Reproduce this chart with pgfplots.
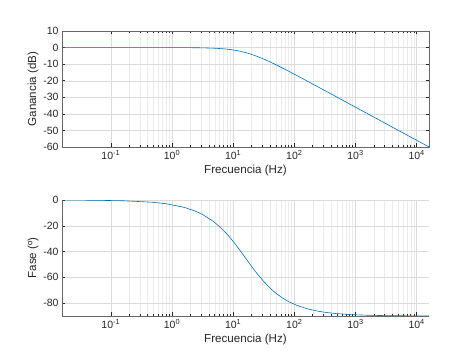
\documentclass[border=0pt]{standalone}
\usepackage{fontspec}
\setmainfont{Liberation Sans}
\usepackage{pgfplots}
\pgfplotsset{compat=1.18}
\definecolor{mblue}{rgb}{0,0.447,0.741}
\definecolor{maxis}{rgb}{0.15,0.15,0.15}
\pgfplotstableread{
f gain phase
0.0159155 0.0000 -0.0573
0.0477465 0.0000 -0.1719
0.159155 -0.0004 -0.573
0.477465 -0.0039 -1.718
0.795775 -0.0108 -2.862
1.59155 -0.0432 -5.711
2.38732 -0.0966 -8.531
3.18310 -0.1703 -11.310
4.77465 -0.3743 -16.699
6.36620 -0.6446 -21.801
7.95775 -0.9691 -26.565
9.54930 -1.3354 -30.964
11.1408 -1.7319 -34.992
12.7324 -2.1484 -38.660
15.9155 -3.0103 -45.000
19.8944 -4.0866 -51.340
23.8732 -5.1188 -56.310
31.8310 -6.9897 -63.435
39.7887 -8.6034 -68.199
47.7465 -10.0000 -71.565
63.6620 -12.3045 -75.964
79.5775 -14.1497 -78.690
111.408 -16.9897 -81.870
159.155 -20.0432 -84.289
238.732 -23.5411 -86.186
318.310 -26.0314 -87.138
477.465 -29.5472 -88.091
795.775 -33.9811 -88.854
1591.55 -40.0004 -89.427
3183.10 -46.0206 -89.714
7957.75 -53.9794 -89.885
15915.5 -60.0000 -89.943
}\bode
\begin{document}
\begin{tikzpicture}
\useasboundingbox (0,0) rectangle (474pt,355pt);
\begin{axis}[at={(62pt,208pt)},
    anchor=south west, scale only axis, width=367pt, height=116pt,
    xmode=log, xmin=0.0159155, xmax=15915.5,
    xtick={0.1,1,10,100,1000,10000},
    xticklabels={10\textsuperscript{-1},10\textsuperscript{0},10\textsuperscript{1},10\textsuperscript{2},10\textsuperscript{3},10\textsuperscript{4}},
    grid=both,
    major grid style={draw=black!14, line width=0.4pt},
    minor grid style={draw=black!8, line width=0.4pt},
    tick align=inside,
    major tick length=3.5pt, minor tick length=2pt,
    tick style={draw=maxis, line width=0.5pt},
    axis line style={draw=maxis!70, line width=0.5pt},
    tick label style={font=\fontsize{10.5}{12}\selectfont, text=maxis},
    xlabel style={font=\fontsize{11.6}{13}\selectfont, text=maxis, yshift=2pt},
    ylabel style={font=\fontsize{11.6}{13}\selectfont, text=maxis, yshift=-2pt},
    xlabel={Frecuencia (Hz)},
    ymin=-60, ymax=10, ytick={-60,-50,-40,-30,-20,-10,0,10},
    yticklabels={-60,-50,-40,-30,-20,-10,0,10},
    ylabel={Ganancia (dB)}]
\addplot[mblue, line width=0.6pt, no marks] table[x=f, y=gain] {\bode};
\end{axis}
\begin{axis}[at={(62pt,39pt)},
    anchor=south west, scale only axis, width=367pt, height=116pt,
    xmode=log, xmin=0.0159155, xmax=15915.5,
    xtick={0.1,1,10,100,1000,10000},
    xticklabels={10\textsuperscript{-1},10\textsuperscript{0},10\textsuperscript{1},10\textsuperscript{2},10\textsuperscript{3},10\textsuperscript{4}},
    grid=both,
    major grid style={draw=black!14, line width=0.4pt},
    minor grid style={draw=black!8, line width=0.4pt},
    tick align=inside,
    major tick length=3.5pt, minor tick length=2pt,
    tick style={draw=maxis, line width=0.5pt},
    axis line style={draw=maxis!70, line width=0.5pt},
    tick label style={font=\fontsize{10.5}{12}\selectfont, text=maxis},
    xlabel style={font=\fontsize{11.6}{13}\selectfont, text=maxis, yshift=2pt},
    ylabel style={font=\fontsize{11.6}{13}\selectfont, text=maxis, yshift=-2pt},
    xlabel={Frecuencia (Hz)},
    axis x line*=bottom, axis y line*=left,
    ymin=-90, ymax=0, ytick={-80,-60,-40,-20,0},
    yticklabels={-80,-60,-40,-20,0},
    ylabel={Fase (º)}]
\addplot[mblue, line width=0.6pt, no marks] table[x=f, y=phase] {\bode};
\end{axis}
\end{tikzpicture}
\end{document}
